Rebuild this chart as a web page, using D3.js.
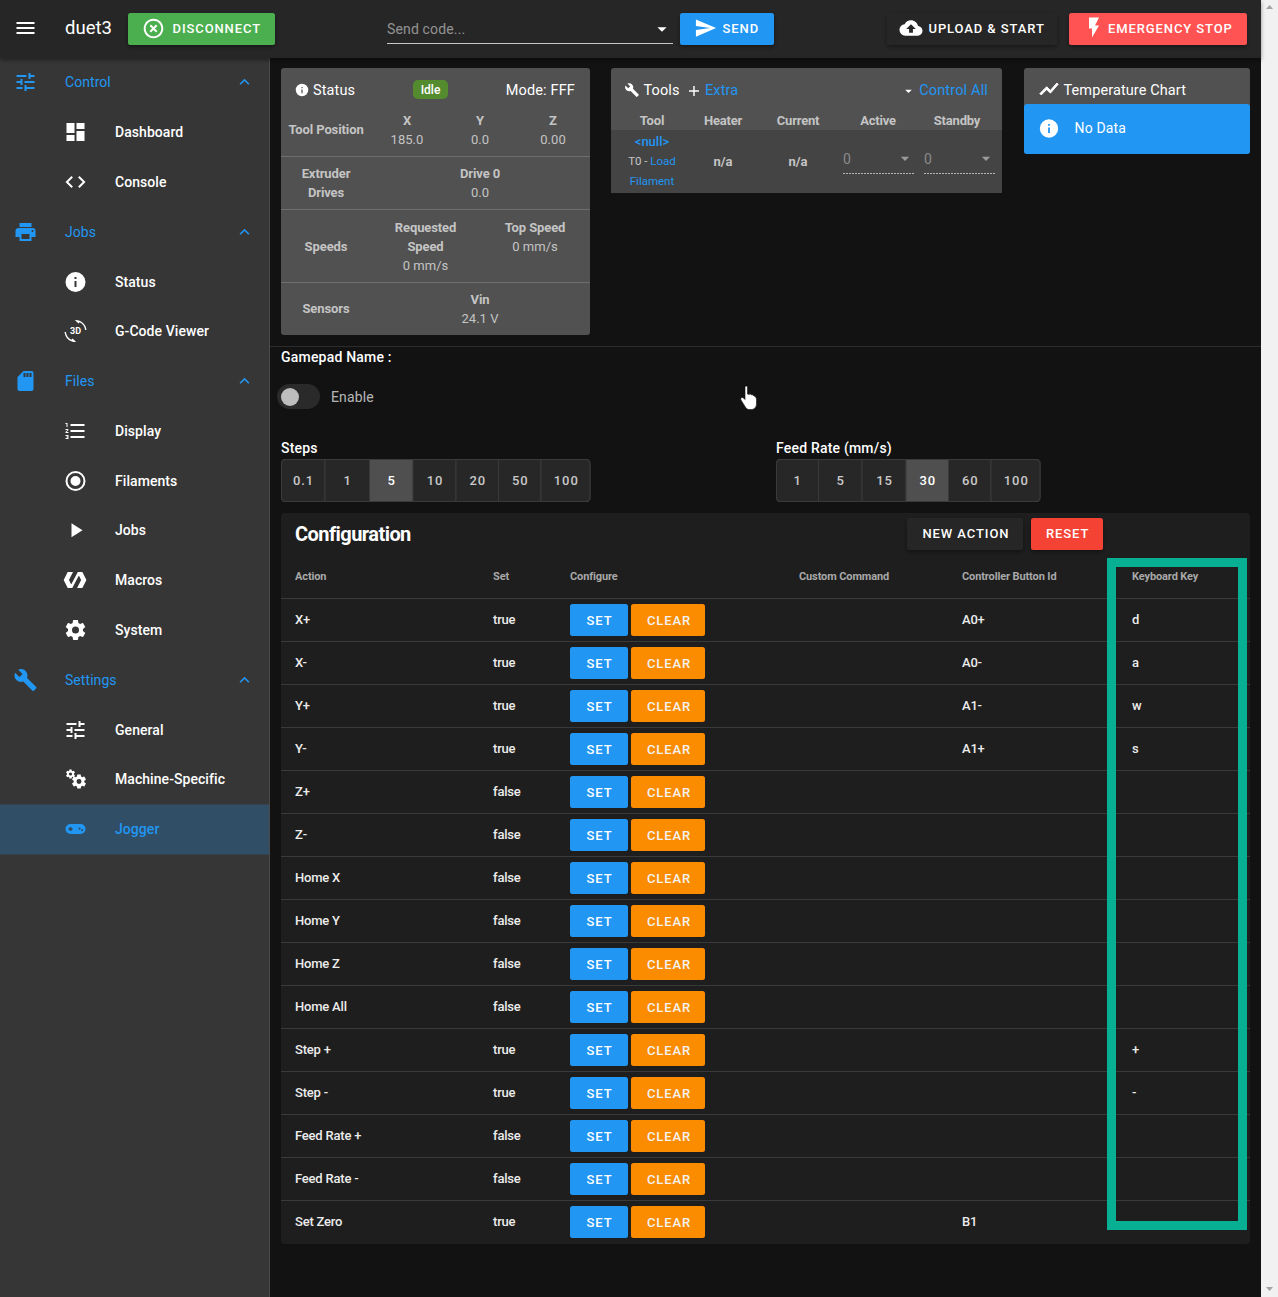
<!DOCTYPE html>
<html>
<head>
<meta charset="utf-8">
<title>duet3 jogger</title>
<script src="https://cdnjs.cloudflare.com/ajax/libs/d3/7.8.5/d3.min.js"></script>
<style>
  html, body { margin: 0; padding: 0; background: #121212; overflow: hidden; }
  svg { display: block; font-family: Roboto, sans-serif; }
</style>
</head>
<body>
<svg id="page"></svg>
<script>
// table content
const actions = ["X+", "X-", "Y+", "Y-", "Z+", "Z-", "Home X", "Home Y", "Home Z", "Home All", "Step +", "Step -", "Feed Rate +", "Feed Rate -", "Set Zero"];
const setFlags = ["true", "true", "true", "true", "false", "false", "false", "false", "false", "false", "true", "true", "false", "false", "true"];
const buttonIds = ["A0+", "A0-", "A1-", "A1+", "", "", "", "", "", "", "", "", "", "", "B1"];
const keyboardKeys = ["d", "a", "w", "s", "", "", "", "", "", "", "+", "-", "", "", ""];
const columns = ["Action", "Set", "Configure", "Custom Command", "Controller Button Id", "Keyboard Key"];

// button groups
const stepValues = ["0.1", "1", "5", "10", "20", "50", "100"];
const feedValues = ["1", "5", "15", "30", "60", "100"];
const activeStep = "5";
const activeFeed = "30";

// sidebar
const navLabels = ["Control", "Dashboard", "Console", "Jobs", "Status", "G-Code Viewer", "Files", "Display", "Filaments", "Jobs", "Macros", "System", "Settings", "General", "Machine-Specific", "Jogger"];
const navIcons = ["tune", "dashboard", "code", "printer", "info", "rotate", "sd", "list", "record", "play", "polymer", "cog", "wrench", "tune", "cogs", "gamepad"];
const navGroups = ["Control", "Jobs", "Files", "Settings"];
const navActive = 15;

// tools panel
const toolHeaders = ["Tool", "Heater", "Current", "Active", "Standby"];

const icons = {
  menu: "M3,6H21V8H3V6M3,11H21V13H3V11M3,16H21V18H3V16Z",
  tune: "M3,17V19H9V17H3M3,5V7H13V5H3M13,21V19H21V17H13V15H11V21H13M7,9V11H3V13H7V15H9V9H7M21,13V11H11V13H21M15,9H17V7H21V5H17V3H15V9Z",
  dashboard: "M13,3V9H21V3M13,21H21V11H13M3,21H11V15H3M3,13H11V3H3V13Z",
  code: "M14.6,16.6L19.2,12L14.6,7.4L16,6L22,12L16,18L14.6,16.6M9.4,16.6L4.8,12L9.4,7.4L8,6L2,12L8,18L9.4,16.6Z",
  printer: "M18,3H6V7H18M19,12A1,1 0 0,1 18,11A1,1 0 0,1 19,10A1,1 0 0,1 20,11A1,1 0 0,1 19,12M16,19H8V14H16M19,8H5A3,3 0 0,0 2,11V17H6V21H18V17H22V11A3,3 0 0,0 19,8Z",
  info: "M13,9H11V7H13M13,17H11V11H13M12,2A10,10 0 0,0 2,12A10,10 0 0,0 12,22A10,10 0 0,0 22,12A10,10 0 0,0 12,2Z",
  rotate: "M7.52,21.48C4.25,19.94 1.91,16.76 1.55,13H0.05C0.56,19.16 5.71,24 12,24L12.66,23.97L8.85,20.16L7.52,21.48M12.05,0L11.39,0.03L15.2,3.84L16.53,2.51C19.8,4.05 22.14,7.23 22.5,11H24C23.49,4.84 18.34,0 12.05,0Z",
  sd: "M18,8H16V4H18M15,8H13V4H15M12,8H10V4H12M18,2H10L4,8V20A2,2 0 0,0 6,22H18A2,2 0 0,0 20,20V4A2,2 0 0,0 18,2Z",
  list: "M7,13V11H21V13H7M7,19V17H21V19H7M7,7V5H21V7H7M3,8V5H2V4H4V8H3M2,17V16H5V20H2V19H4V18.5H3V17.5H4V17H2M4.25,10A0.75,0.75 0 0,1 5,10.75C5,10.95 4.92,11.14 4.79,11.27L3.12,13H5V14H2V13.08L4,11H2V10H4.25Z",
  record: "M12,20A8,8 0 0,1 4,12A8,8 0 0,1 12,4A8,8 0 0,1 20,12A8,8 0 0,1 12,20M12,2A10,10 0 0,0 2,12A10,10 0 0,0 12,22A10,10 0 0,0 22,12A10,10 0 0,0 12,2M12,7A5,5 0 0,0 7,12A5,5 0 0,0 12,17A5,5 0 0,0 17,12A5,5 0 0,0 12,7Z",
  play: "M8,5.14V19.14L19,12.14L8,5.14Z",
  polymer: "M19,4H15L7.3,18.63L4,12L8,4H4L0,12L4,20H8L15.7,5.37L19,12L15,20H19L23,12L19,4Z",
  cog: "M12,15.5A3.5,3.5 0 0,1 8.5,12A3.5,3.5 0 0,1 12,8.5A3.5,3.5 0 0,1 15.5,12A3.5,3.5 0 0,1 12,15.5M19.43,12.97C19.47,12.65 19.5,12.33 19.5,12C19.5,11.67 19.47,11.34 19.43,11L21.54,9.37C21.73,9.22 21.78,8.95 21.66,8.73L19.66,5.27C19.54,5.05 19.27,4.96 19.05,5.05L16.56,6.05C16.04,5.66 15.5,5.32 14.87,5.07L14.5,2.42C14.46,2.18 14.25,2 14,2H10C9.75,2 9.54,2.18 9.5,2.42L9.13,5.07C8.5,5.32 7.96,5.66 7.44,6.05L4.95,5.05C4.73,4.96 4.46,5.05 4.34,5.27L2.34,8.73C2.21,8.95 2.27,9.22 2.46,9.37L4.57,11C4.53,11.34 4.5,11.67 4.5,12C4.5,12.33 4.53,12.65 4.57,12.97L2.46,14.63C2.27,14.78 2.21,15.05 2.34,15.27L4.34,18.73C4.46,18.95 4.73,19.03 4.95,18.95L7.44,17.94C7.96,18.34 8.5,18.68 9.13,18.93L9.5,21.58C9.54,21.82 9.75,22 10,22H14C14.25,22 14.46,21.82 14.5,21.58L14.87,18.93C15.5,18.67 16.04,18.34 16.56,17.94L19.05,18.95C19.27,19.03 19.54,18.95 19.66,18.73L21.66,15.27C21.78,15.05 21.73,14.78 21.54,14.63L19.43,12.97Z",
  wrench: "M22.7,19L13.6,9.9C14.5,7.6 14,4.9 12.1,3C10.1,1 7.1,0.6 4.7,1.7L9,6L6,9L1.6,4.7C0.4,7.1 0.9,10.1 2.9,12.1C4.8,14 7.5,14.5 9.8,13.6L18.9,22.7C19.3,23.1 19.9,23.1 20.3,22.7L22.6,20.4C23.1,20 23.1,19.3 22.7,19Z",
  gamepad: "M7,7H17A5,5 0 0,1 17,17H7A5,5 0 0,1 7,7ZM6,11V10H8V11H9V13H8V14H6V13H5V11ZM16,10.5A1,1 0 1,0 16.01,10.5ZM18.5,12A1,1 0 1,0 18.51,12Z",
  closeCircle: "M12,20C7.59,20 4,16.41 4,12C4,7.59 7.59,4 12,4C16.41,4 20,7.59 20,12C20,16.41 16.41,20 12,20M12,2C6.47,2 2,6.47 2,12C2,17.53 6.47,22 12,22C17.53,22 22,17.53 22,12C22,6.47 17.53,2 12,2M14.59,8L12,10.59L9.41,8L8,9.41L10.59,12L8,14.59L9.41,16L12,13.41L14.59,16L16,14.59L13.41,12L16,9.41L14.59,8Z",
  send: "M2,21L23,12L2,3V10L17,12L2,14V21Z",
  cloud: "M14,13V17H10V13H7L12,8L17,13M19.35,10.03C18.67,6.59 15.64,4 12,4C9.11,4 6.6,5.64 5.35,8.03C2.34,8.36 0,10.9 0,14A6,6 0 0,0 6,20H19A5,5 0 0,0 24,15C24,12.36 21.95,10.22 19.35,10.03Z",
  flash: "M7,2V13H10V22L17,10H13L17,2H7Z",
  chart: "M3.5,18.5L9.5,12.5L13.5,16.5L22,6.92L20.59,5.5L13.5,13.5L9.5,9.5L2,17L3.5,18.5Z",
  chevron: "M7.41,15.41L12,10.83L16.59,15.41L18,14L12,8L6,14L7.41,15.41Z",
  caret: "M7,10L12,15L17,10H7Z",
  plus: "M19,13H13V19H11V13H5V11H11V5H13V11H19V13Z"
};

const W = 1278, H = 1297;
const blue = "#2196f3", dim = "rgba(255,255,255,0.7)", white = "#fff";

const svg = d3.select("#page").attr("width", W).attr("height", H);
const defs = svg.append("defs");
const shadow = defs.append("filter").attr("id", "shadow").attr("x", "-10%").attr("y", "-20%").attr("width", "120%").attr("height", "150%");
shadow.append("feDropShadow").attr("dx", 0).attr("dy", 2).attr("stdDeviation", 2).attr("flood-color", "#000").attr("flood-opacity", 0.4);

// small helpers
function rect(g, x, y, w, h, fill, rx) {
  return g.append("rect").attr("x", x).attr("y", y).attr("width", w).attr("height", h).attr("fill", fill).attr("rx", rx || 0);
}
function text(g, x, y, s, o) {
  o = o || {};
  return g.append("text").attr("x", x).attr("y", y).attr("dy", "0.35em")
    .attr("fill", o.fill || white)
    .attr("font-size", o.size || 14)
    .attr("font-weight", o.weight || 400)
    .attr("text-anchor", o.anchor || "start")
    .attr("letter-spacing", o.ls || 0)
    .text(s);
}
function icon(g, name, cx, cy, size, fill) {
  return g.append("path").attr("d", icons[name]).attr("fill", fill || white)
    .attr("fill-rule", "evenodd")
    .attr("transform", `translate(${cx - size / 2},${cy - size / 2}) scale(${size / 24})`);
}
function button(g, x, y, w, h, fill, label, tx, size) {
  rect(g, x, y, w, h, fill, 2.5).attr("filter", "url(#shadow)");
  text(g, tx, y + h / 2 - 0.5, label, { size: size || 13, weight: 500, ls: 0.9 });
}

// page
rect(svg, 0, 0, W, H, "#121212");
rect(svg, 1261, 0, 17, H, "#f1f1f1");
svg.append("path").attr("d", "M1266,9L1269.5,5L1273,9Z").attr("fill", "#a3a3a3");
svg.append("path").attr("d", "M1266,1287L1269.5,1291L1273,1287Z").attr("fill", "#a3a3a3");

// sidebar
const side = svg.append("g");
rect(side, 0, 58, 270, H - 58, "#363636");
rect(side, 269, 58, 1, H - 58, "#4a4a4a");

const navY = d3.scaleOrdinal().domain(d3.range(navLabels.length))
  .range([82, 132, 182, 232, 282, 331, 381, 431, 481, 530, 580, 630, 680, 730, 779, 829]);

rect(side, 0, navY(navActive) - 24.5, 269, 50, "#304e66");

const navItems = side.selectAll("g.nav").data(navLabels).join("g").attr("class", "nav");
navItems.each(function (label, i) {
  const g = d3.select(this);
  const isGroup = navGroups.includes(label) && !(label === "Jobs" && i === 9);
  const y = navY(i);
  const color = isGroup || i === navActive ? blue : white;
  const ix = isGroup ? 25.5 : 75.5;
  if (navIcons[i] === "cogs") {
    icon(g, "cog", 70.5, y - 5, 11, white);
    icon(g, "cog", 79, y + 2.5, 17, white);
  } else if (navIcons[i] === "polymer") {
    icon(g, "polymer", ix, y, 22, color).attr("stroke", color).attr("stroke-width", 1.6).attr("fill-rule", "nonzero");
  } else {
    icon(g, navIcons[i], ix, y, i === 5 ? 22 : 24, color);
  }
  if (navIcons[i] === "rotate") {
    text(g, ix, y, "3D", { size: 9, weight: 700, anchor: "middle" });
  }
  text(g, isGroup ? 65 : 115, y, label, { fill: color, weight: isGroup ? 400 : 500, ls: 0.06 });
  if (isGroup) icon(g, "chevron", 244.5, y, 20, blue);
});

// app bar
const bar = svg.append("g");
rect(bar, 0, 0, 1261, 58, "#272727").attr("filter", "url(#shadow)");
icon(bar, "menu", 25.5, 28, 24);
text(bar, 65, 27.5, "duet3", { size: 18.5 });

button(bar, 128, 13, 147, 32, "#4caf50", "DISCONNECT", 172.5);
icon(bar, "closeCircle", 153.5, 28.5, 23.5);

text(bar, 387, 29, "Send code...", { size: 14, fill: "rgba(255,255,255,0.5)", ls: 0.15 });
rect(bar, 387, 43, 286, 1, "#c8c8c8");
icon(bar, "caret", 662, 29, 22);

button(bar, 680, 13, 94, 32, blue, "SEND", 722.5);
icon(bar, "send", 705.5, 28, 23);

button(bar, 887, 13, 170, 32, "#272727", "UPLOAD & START", 928.5);
icon(bar, "cloud", 911, 28, 23);

button(bar, 1069, 13, 178, 32, "#ff5252", "EMERGENCY STOP", 1108);
icon(bar, "flash", 1094, 27.5, 24);

// status panel
const status = svg.append("g");
rect(status, 281, 68, 309, 267, "#515151", 3);
icon(status, "info", 302, 90, 15);
text(status, 313, 90, "Status", { size: 14.5, weight: 400, ls: 0.1 });
rect(status, 413, 80, 35, 19, "#558b2f", 5);
text(status, 430.5, 89.5, "Idle", { size: 12, weight: 500, anchor: "middle" });
text(status, 575, 90, "Mode: FFF", { size: 14.5, weight: 400, anchor: "end", ls: 0.15 });

const statusLines = [156, 209, 282];
status.selectAll("rect.line").data(statusLines).join("rect").attr("class", "line")
  .attr("x", 281).attr("y", (d) => d).attr("width", 309).attr("height", 1).attr("fill", "#6e6e6e");

const bold = { size: 13, weight: 700, fill: "#c4c4c4", anchor: "middle", ls: -0.1 };
const value = { size: 13, fill: "#c4c4c4", anchor: "middle", ls: 0.05 };
text(status, 326, 129.5, "Tool Position", bold);
text(status, 407, 120, "X", bold); text(status, 407, 139.5, "185.0", value);
text(status, 480, 120, "Y", bold); text(status, 480, 139.5, "0.0", value);
text(status, 553, 120, "Z", bold); text(status, 553, 139.5, "0.00", value);
text(status, 326, 173, "Extruder", bold); text(status, 326, 192, "Drives", bold);
text(status, 480, 173, "Drive 0", bold); text(status, 480, 192, "0.0", value);
text(status, 326, 246.5, "Speeds", bold);
text(status, 425.5, 227.5, "Requested", bold); text(status, 425.5, 246.5, "Speed", bold); text(status, 425.5, 265.5, "0 mm/s", value);
text(status, 535, 227.5, "Top Speed", bold); text(status, 535, 246.5, "0 mm/s", value);
text(status, 326, 308.5, "Sensors", bold);
text(status, 480, 299, "Vin", bold); text(status, 480, 318.5, "24.1 V", value);

// tools panel
const tools = svg.append("g");
rect(tools, 611, 68, 391, 125, "#515151", 3);
rect(tools, 611, 130, 391, 63, "#444444");
icon(tools, "wrench", 632, 90, 15);
text(tools, 643.5, 90, "Tools", { size: 14.5, weight: 400, ls: 0.1 });
icon(tools, "plus", 694, 91, 17);
text(tools, 705, 90, "Extra", { size: 14.5, fill: blue, ls: 0.1 });
icon(tools, "caret", 908.5, 91, 16);
text(tools, 988, 90, "Control All", { size: 14.5, fill: blue, anchor: "end", ls: 0.15 });

const toolX = d3.scaleOrdinal().domain(toolHeaders).range([652, 723, 798, 878, 957]);
tools.selectAll("text.head").data(toolHeaders).join("text").attr("class", "head")
  .attr("x", (d) => toolX(d)).attr("y", 120).attr("dy", "0.35em")
  .attr("text-anchor", "middle").attr("font-size", 13).attr("font-weight", 700)
  .attr("fill", "#c4c4c4").attr("letter-spacing", -0.2).text((d) => d);

text(tools, 652, 141.5, "<null>", { size: 13, weight: 500, fill: blue, anchor: "middle" });
const t0 = text(tools, 652, 161, "T0 - ", { size: 11.5, fill: "#c4c4c4", anchor: "middle" });
t0.append("tspan").attr("fill", blue).text("Load");
text(tools, 652, 181, "Filament", { size: 11.5, fill: blue, anchor: "middle" });
text(tools, toolX("Heater"), 161.5, "n/a", { size: 13, weight: 700, fill: "#c4c4c4", anchor: "middle" });
text(tools, toolX("Current"), 161.5, "n/a", { size: 13, weight: 700, fill: "#c4c4c4", anchor: "middle" });

[["Active", 843, 72], ["Standby", 924, 72]].forEach(([name, x, w]) => {
  text(tools, x, 159, "0", { size: 14, fill: "#8a8a8a" });
  icon(tools, "caret", x + w - 10, 158.5, 20, "#9a9a9a");
  tools.append("line").attr("x1", x).attr("x2", x + w).attr("y1", 173.5).attr("y2", 173.5)
    .attr("stroke", "#b5b5b5").attr("stroke-dasharray", "2 1");
});

// temperature chart
const temp = svg.append("g");
rect(temp, 1024, 68, 226, 86, "#515151", 3);
icon(temp, "chart", 1049, 89, 22).attr("stroke", white).attr("stroke-width", 1).attr("stroke-linejoin", "round");
text(temp, 1063.5, 90, "Temperature Chart", { size: 14.5, weight: 400, ls: 0.1 });
rect(temp, 1024, 104, 226, 50, blue, 3);
icon(temp, "info", 1049, 128.5, 22);
text(temp, 1074.5, 128, "No Data", { size: 14, ls: 0.15 });

rect(svg, 270, 346, 991, 1, "#2c2c2c");

// gamepad header
const pad = svg.append("g");
text(pad, 281, 357, "Gamepad Name :", { size: 14, weight: 500, ls: 0.2 });
rect(pad, 277, 384, 43, 25, "#2a2a2a", 12.5);
pad.append("circle").attr("cx", 290).attr("cy", 397).attr("r", 9).attr("fill", "#bdbdbd");
text(pad, 331, 397, "Enable", { size: 14, fill: dim, ls: 0.15 });

// mouse pointer
pad.append("path")
  .attr("d", "M745,387.5C745,385.5 747.5,385.5 747.5,387.5V394L749.5,394.5V393.5L752,395V394.5L755,396.5C756.5,397.5 756.5,399 756.5,400.5V404C756.5,407 754.5,409.5 751.5,409.5H749C747,409.5 746,408 745,406.5L741,400C740,398.5 742,396.5 743.5,398L745,399.5Z")
  .attr("fill", white).attr("stroke", "#111").attr("stroke-width", 0.6);

// step / feed rate toggles
function toggleGroup(id, values, edges, active, title) {
  const g = svg.append("g");
  const x = d3.scaleLinear().domain(d3.range(values.length + 1)).range(edges);
  const left = edges[0], width = edges[edges.length - 1] - edges[0];
  defs.append("clipPath").attr("id", id).append("rect")
    .attr("x", left).attr("y", 459).attr("width", width).attr("height", 43).attr("rx", 4);
  text(g, left, 448, title, { size: 14, weight: 500, ls: 0.2 });
  const b = g.append("g").attr("clip-path", `url(#${id})`).selectAll("g").data(values).join("g");
  b.append("rect")
    .attr("x", (d, i) => x(i)).attr("y", 459.5).attr("width", (d, i) => x(i + 1) - x(i)).attr("height", 42)
    .attr("fill", (d) => (d === active ? "#4f4f4f" : "#272727"))
    .attr("stroke", "#3a3a3a").attr("stroke-width", 1);
  g.append("rect").attr("x", left + 0.5).attr("y", 459.5).attr("width", width - 1).attr("height", 42).attr("rx", 4)
    .attr("fill", "none").attr("stroke", "#3a3a3a");
  g.selectAll("text.val").data(values).join("text").attr("class", "val")
    .attr("x", (d, i) => (x(i) + x(i + 1)) / 2 + 0.5).attr("y", 480.5).attr("dy", "0.35em")
    .attr("text-anchor", "middle").attr("font-size", 13).attr("font-weight", 500).attr("letter-spacing", 0.9)
    .attr("fill", (d) => (d === active ? white : "rgba(255,255,255,0.75)"))
    .text((d) => d);
}
toggleGroup("stepClip", stepValues, [281, 325, 369.5, 413, 456, 498.5, 541, 590.5], activeStep, "Steps");
toggleGroup("feedClip", feedValues, [776, 818.5, 862, 906, 948.5, 991, 1040.5], activeFeed, "Feed Rate (mm/s)");

// configuration table
const table = svg.append("g");
rect(table, 281, 513, 969, 731, "#1e1e1e", 4);
text(table, 295, 533.5, "Configuration", { size: 20, weight: 700, ls: -0.55 });
button(table, 907, 518, 116, 32, "#272727", "NEW ACTION", 922.5);
button(table, 1031, 518, 72, 32, "#f44336", "RESET", 1046);

const colX = d3.scaleOrdinal().domain(columns).range([295, 493, 570, 799, 962, 1132]);
const rowY = d3.scaleBand().domain(d3.range(actions.length)).range([599, 1244]);

table.selectAll("text.col").data(columns).join("text").attr("class", "col")
  .attr("x", (d) => colX(d)).attr("y", 576).attr("dy", "0.35em")
  .attr("font-size", 11).attr("font-weight", 700).attr("letter-spacing", -0.12)
  .attr("fill", "#a8a8a8").text((d) => d);

const rows = table.selectAll("g.row").data(actions).join("g").attr("class", "row")
  .attr("transform", (d, i) => `translate(0,${rowY(i)})`);

rows.append("rect").attr("x", 281).attr("y", -1).attr("width", 969).attr("height", 1).attr("fill", "#3a3a3a");

function cell(col, values) {
  rows.append("text").attr("x", colX(col)).attr("y", 20.5).attr("dy", "0.35em")
    .attr("font-size", 13).attr("font-weight", 500).attr("letter-spacing", -0.2)
    .attr("fill", "#ececec").text((d, i) => values[i]);
}
cell("Action", actions);
cell("Set", setFlags);
cell("Controller Button Id", buttonIds);
cell("Keyboard Key", keyboardKeys);

rows.append("rect").attr("x", 570).attr("y", 5).attr("width", 58).attr("height", 32).attr("rx", 2.5).attr("fill", blue);
rows.append("text").attr("x", 599.5).attr("y", 21.5).attr("dy", "0.35em").attr("text-anchor", "middle")
  .attr("font-size", 13).attr("font-weight", 500).attr("letter-spacing", 0.9).attr("fill", white).text("SET");
rows.append("rect").attr("x", 631).attr("y", 5).attr("width", 74).attr("height", 32).attr("rx", 2.5).attr("fill", "#fb8c00");
rows.append("text").attr("x", 669).attr("y", 21.5).attr("dy", "0.35em").attr("text-anchor", "middle")
  .attr("font-size", 13).attr("font-weight", 500).attr("letter-spacing", 0.9).attr("fill", "#f2f2f2").text("CLEAR");

// highlight around the keyboard column
svg.append("rect").attr("x", 1111.5).attr("y", 562.5).attr("width", 131).attr("height", 663)
  .attr("fill", "none").attr("stroke", "#08b093").attr("stroke-width", 9);
</script>
</body>
</html>
